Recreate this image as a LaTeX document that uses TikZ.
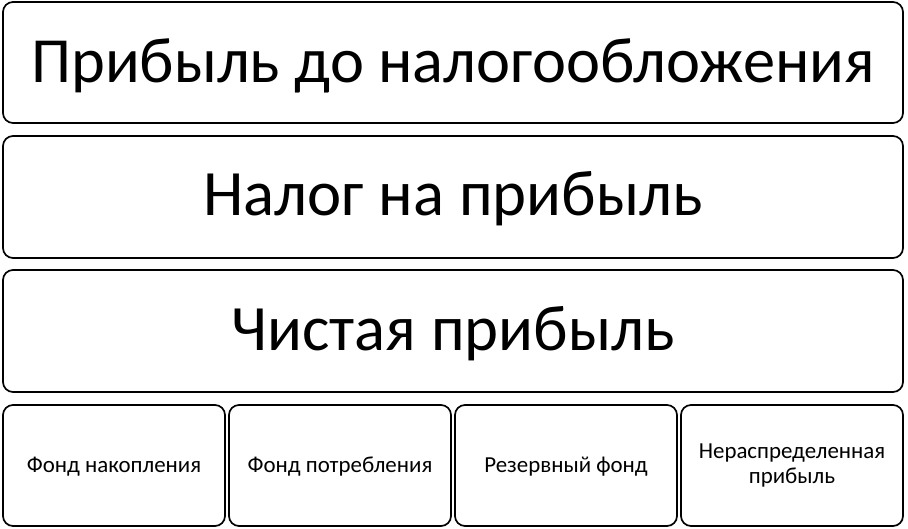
\documentclass[tikz,border=0pt]{standalone}
\usepackage{fontspec}
\setmainfont{Carlito}
\begin{document}
\begin{tikzpicture}[x=1pt,y=-1pt,
  box/.style={draw=black,line width=1.7pt,rounded corners=10pt,fill=white,inner sep=0pt},
  lbl/.style={inner sep=0pt,anchor=base,align=center},
  big/.style={font=\fontsize{64.4}{70}\selectfont},
  mid/.style={font=\fontsize{64.7}{70}\selectfont},
  small/.style={font=\fontsize{22.9}{25}\selectfont}]
\useasboundingbox (0,0) rectangle (908,528);
\node[box,minimum width=900pt,minimum height=121pt] (a) at (453,62.5) {};
\node[lbl,big] (at) at (453,82) {Прибыль до налогообложения};
\node[box,minimum width=900pt,minimum height=122pt] (b) at (453,197) {};
\node[lbl,mid] (bt) at (453,215.5) {Налог на прибыль};
\node[box,minimum width=900pt,minimum height=122pt] (c) at (453,331) {};
\node[lbl,mid] (ct) at (453,350) {Чистая прибыль};
\node[box,minimum width=222pt,minimum height=121pt] (d1) at (114,465.5) {};
\node[box,minimum width=222pt,minimum height=121pt] (d2) at (340,465.5) {};
\node[box,minimum width=222pt,minimum height=121pt] (d3) at (566,465.5) {};
\node[box,minimum width=222pt,minimum height=121pt] (d4) at (792,465.5) {};
\node[lbl,small] (d1t) at (d1.center |- 0,472) {Фонд накопления};
\node[lbl,small] (d2t) at (d2.center |- 0,472) {Фонд потребления};
\node[lbl,small] (d3t) at (d3.center |- 0,472) {Резервный фонд};
\node[lbl,small] (d4t) at (d4.center |- 0,458) {Нераспределенная};
\node[lbl,small] (d4u) at (d4.center |- 0,483) {прибыль};
\end{tikzpicture}
\end{document}
